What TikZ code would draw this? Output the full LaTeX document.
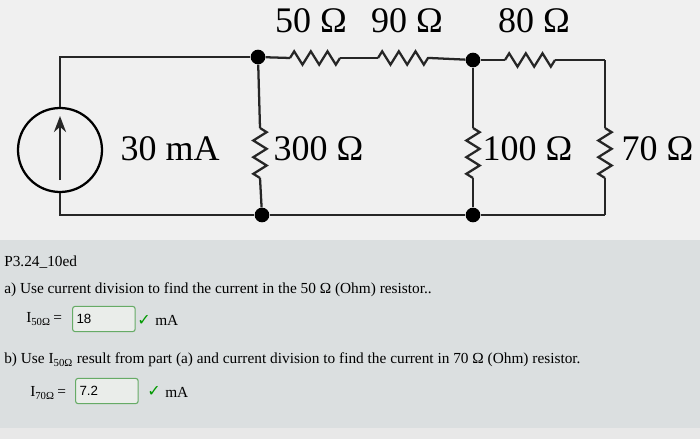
\documentclass[tikz,border=0pt]{standalone}
\usepackage{fontspec}
\setmainfont{Liberation Serif}
\newfontfamily\uisans{Liberation Sans}
\newfontfamily\sym{DejaVu Sans}
\usetikzlibrary{decorations.pathmorphing,arrows.meta}
\begin{document}
\begin{tikzpicture}[x=0.75pt,y=-0.75pt,
  wire/.style={line width=1.7pt,black!85},
  res/.style={wire,decorate,decoration={zigzag,segment length=12.5,amplitude=5}},
  dot/.style={circle,fill=black,inner sep=0pt,minimum size=11pt},
  big/.style={font=\fontsize{27}{30}\selectfont,inner sep=1pt},
  txt/.style={font=\fontsize{11.5}{13}\selectfont,anchor=west,inner sep=0pt},
  ansbox/.style={draw=green!45!black!60,fill=green!8!gray!15,rounded corners=2pt,line width=0.8pt,minimum height=19pt,anchor=west,inner sep=3pt,text width=41pt,font=\uisans\fontsize{10}{12}\selectfont},
  chk/.style={text=green!60!black,font=\sym\fontsize{12}{14}\selectfont,inner sep=0pt}]
\useasboundingbox (0,0) rectangle (700,439);
\fill[gray!12] (0,0) rectangle (700,240);
\fill[cyan!10!gray!30] (0,240) rectangle (700,428);
\fill[gray!18] (0,428) rectangle (700,439);
% nodes
\node[dot] (n1) at (258,57) {};
\node[dot] (n2) at (473,60) {};
\node[dot] (b1) at (262,215) {};
\node[dot] (b2) at (473,215) {};
\coordinate (tr) at (605,60);
\coordinate (br) at (605,215);
\node[circle,draw,line width=1.7pt,minimum size=63pt,inner sep=0pt] (src) at (60,150) {};
\draw[wire] (src.north) |- (n1);
\draw[wire] (src.south) |- (b1);
\draw[wire] (b1) -- (b2) -- (br);
\draw[line width=2.2pt,black!85,-{Stealth[length=12pt,width=9pt]}] (60,180) -- (60,116);
% top resistors
\coordinate (r1a) at (290,58); \coordinate (r1b) at (340,58);
\coordinate (r2a) at (378,58); \coordinate (r2b) at (430,58);
\coordinate (r3a) at (505,60); \coordinate (r3b) at (555,60);
\draw[wire] (n1) -- (r1a); \draw[res] (r1a) -- (r1b); \draw[wire] (r1b) -- (r2a);
\draw[res] (r2a) -- (r2b); \draw[wire] (r2b) -- (n2);
\draw[wire] (n2) -- (r3a); \draw[res] (r3a) -- (r3b); \draw[wire] (r3b) -- (tr);
% verticals
\coordinate (v1a) at (260,128); \coordinate (v1b) at (260,178);
\coordinate (v2a) at (473,128); \coordinate (v2b) at (473,178);
\coordinate (v3a) at (605,128); \coordinate (v3b) at (605,178);
\draw[wire] (n1) -- (v1a); \draw[res] (v1a) -- (v1b); \draw[wire] (v1b) -- (b1);
\draw[wire] (n2) -- (v2a); \draw[res] (v2a) -- (v2b); \draw[wire] (v2b) -- (b2);
\draw[wire] (tr) -- (v3a); \draw[res] (v3a) -- (v3b); \draw[wire] (v3b) -- (br);
% labels
\node[big] (l50) at (311,21) {50 Ω};
\node[big] (l90) at (407,21) {90 Ω};
\node[big] (l80) at (534,21) {80 Ω};
\node[big] (l30) at (170,149) {30 mA};
\node[big,anchor=west] (l300) at (272,149) {300 Ω};
\node[big,anchor=west] (l100) at (481,149) {100 Ω};
\node[big,anchor=west] (l70) at (620,149) {70 Ω};
% text
\node[txt] (t0) at (4,262) {P3.24\_10ed};
\node[txt] (t1) at (4,290) {a) Use current division to find the current in the 50 Ω (Ohm) resistor..};
\node[txt] (t2) at (26,319) {I\textsubscript{50Ω}\,=};
\node[ansbox] (box1) at (72,319) {18};
\node[chk] (c1) at (144,320) {✓};
\node[txt] (m1) at (155,320) {mA};
\node[txt] (t3) at (4,360) {b) Use I\textsubscript{50Ω} result from part (a) and current division to find the current in 70 Ω (Ohm) resistor.};
\node[txt] (t4) at (30,393) {I\textsubscript{70Ω}\,=};
\node[ansbox] (box2) at (75,391) {7.2};
\node[chk] (c2) at (154,391) {✓};
\node[txt] (m2) at (165,392) {mA};
\end{tikzpicture}
\end{document}
